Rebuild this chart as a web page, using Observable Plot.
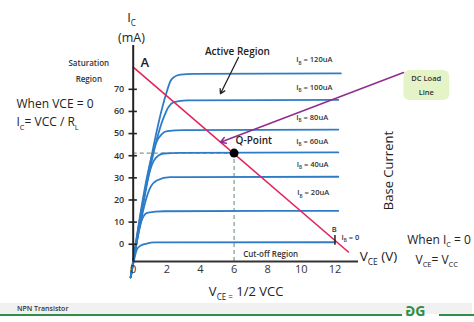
<!DOCTYPE html>
<html>
<head>
<meta charset="utf-8">
<script src="https://cdn.jsdelivr.net/npm/d3@7"></script>
<script src="https://cdn.jsdelivr.net/npm/@observablehq/plot@0.6"></script>
<style>
  body { margin: 0; background: #fff; font-family: "Open Sans", sans-serif; }
  #wrap { position: relative; width: 474px; height: 322px; overflow: hidden; background: #fff; }
  #chart { position: absolute; left: 0; top: 0; }
  #band { position: absolute; left: 0; top: 303px; width: 472px; height: 11px; background: #f1f1f1; }
  #foottext { position: absolute; left: 17px; top: 303.5px; font: 600 7px "Open Sans", sans-serif; color: #333; line-height: 10px; }
  .gline { position: absolute; top: 314px; height: 2px; background: #2f8d46; }
  #logo { position: absolute; left: 406px; top: 304px; font: 700 14px "Open Sans", sans-serif; color: #2f8d46; line-height: 14px; letter-spacing: -1px; }
  #logo span { display: inline-block; }
</style>
</head>
<body>
<div id="wrap">
  <div id="chart"></div>
  <div id="band"></div>
  <div id="foottext">NPN Transistor</div>
  <div class="gline" style="left:0px;width:402px"></div>
  <div class="gline" style="left:439px;width:35px"></div>
  <div id="logo"><span style="transform:scaleX(-1)">G</span><span>G</span></div>
</div>
<script>
// ---- data (VCE in V, IC in mA) ----
const baseCurrents = ["0", "20", "40", "60", "80", "100", "120"]; // uA
const curveIb0   = [[-0.15,-15],[0.24,-2.1],[0.45,-0.6],[0.8,0.3],[1.25,0.8],[12.0,0.9]];
const curveIb20  = [[-0.15,-15],[0.54,11.5],[0.83,14.2],[1.3,14.7],[1.82,14.9],[12.2,15.1]];
const curveIb40  = [[-0.15,-15],[1.03,25.8],[1.4,28.8],[2.2,30.3],[12.2,30.5]];
const curveIb60  = [[-0.15,-15],[1.23,37.8],[1.55,40.3],[1.82,41.0],[2.8,41.3],[12.2,41.5]];
const curveIb80  = [[-0.15,-15],[1.43,46.9],[1.7,49.8],[2.02,51.1],[3.0,51.6],[12.2,51.8]];
const curveIb100 = [[-0.15,-15],[1.82,57.4],[2.1,62.0],[2.42,64.2],[3.2,65.0],[12.2,65.2]];
const curveIb120 = [[-0.15,-15],[2.02,69.5],[2.2,73.5],[2.42,75.5],[2.81,76.6],[3.6,77.0],[12.35,77.2]];
const curves = [curveIb0, curveIb20, curveIb40, curveIb60, curveIb80, curveIb100, curveIb120];

const loadLine = [[0, 80], [12.8, -3.5]];   // DC load line, A -> past B
const qPoint = [6, 41.2];                    // Q-point
const bPoint = 12;                           // B at VCE = VCC
const xTicks = [0, 2, 4, 6, 8, 10, 12];
const yTicks = [0, 10, 20, 30, 40, 50, 60, 70];

// ---- layout / annotations ----
const xDomain = [0, 13.4];
const yDomain = [-7.8, 89.8];
const blue = "#2f7cc6", red = "#e3245a", purple = "#912c8e", ink = "#222";

const labels = [
  {t: "I_{C}", x: -0.10, y: 102.4, a: "middle", s: 13, w: 500},
  {t: "(mA)", x: -0.10, y: 93.2, a: "middle", s: 12.5, w: 500},
  {t: "A", x: 0.69, y: 81.9, a: "middle", s: 13, w: 600},
  {t: "Saturation", x: -2.64, y: 81.5, a: "middle", s: 8, w: 600, c: "#333"},
  {t: "Region", x: -2.64, y: 74.6, a: "middle", s: 8, w: 600, c: "#333"},
  {t: "When VCE = 0", x: -6.94, y: 63.1, a: "start", s: 12, w: 500},
  {t: "I_{C}= VCC / R_{L}", x: -6.94, y: 55.1, a: "start", s: 12, w: 500},
  {t: "Active Region", x: 6.2, y: 86.8, a: "middle", s: 10, w: 600},
  {t: "I_{B} = 120uA", x: 9.70, y: 83.3, a: "start", s: 7.5, w: 600, c: "#333"},
  {t: "I_{B} = 100uA", x: 9.70, y: 71.0, a: "start", s: 7.5, w: 600, c: "#333"},
  {t: "I_{B} = 80uA", x: 9.70, y: 57.4, a: "start", s: 7.5, w: 600, c: "#333"},
  {t: "I_{B} = 60uA", x: 9.70, y: 46.6, a: "start", s: 7.5, w: 600, c: "#333"},
  {t: "I_{B} = 40uA", x: 9.72, y: 36.0, a: "start", s: 7.5, w: 600, c: "#333"},
  {t: "I_{B} = 20uA", x: 9.76, y: 23.2, a: "start", s: 7.5, w: 600, c: "#333"},
  {t: "B", x: 11.95, y: 6.7, a: "middle", s: 7.5, w: 600, c: "#333"},
  {t: "I_{B} = 0", x: 12.39, y: 3.2, a: "start", s: 7.5, w: 600, c: "#333"},
  {t: "DC Load", x: 17.43, y: 74.9, a: "middle", s: 7.5, w: 600, c: "#333"},
  {t: "Line", x: 17.43, y: 68.6, a: "middle", s: 7.5, w: 600, c: "#333"},
  {t: "Q-Point", x: 6.09, y: 46.9, a: "start", s: 10, w: 600},
  {t: "Base Current", x: 15.2, y: 33.3, a: "middle", s: 13, w: 500, r: -90},
  {t: "When I_{C} = 0", x: 16.30, y: 2.0, a: "start", s: 12, w: 500},
  {t: "V_{CE}= V_{CC}", x: 16.79, y: -7.0, a: "start", s: 12, w: 500},
  {t: "V_{CE} (V)", x: 13.47, y: -5.5, a: "start", s: 13.5, w: 500},
  {t: "Cut-off Region", x: 6.54, y: -4.6, a: "start", s: 8, w: 600, c: "#333"},
  {t: "V_{CE =} 1/2 VCC", x: 4.50, y: -21.7, a: "start", s: 13, w: 500}
];

const curveData = curves.flatMap((pts, i) => pts.map(([vce, ic]) => ({ib: baseCurrents[i], vce, ic})));

const chart = Plot.plot({
  width: 474,
  height: 302,
  marginLeft: 132.7,
  marginRight: 116,
  marginTop: 45,
  marginBottom: 41,
  x: {domain: xDomain},
  y: {domain: yDomain},
  style: {fontFamily: "'Open Sans', sans-serif", background: "transparent", overflow: "visible"},
  marks: [
    Plot.rect([{x1: 16.1, x2: 18.83, y1: 65.0, y2: 78.5}], {x1: "x1", x2: "x2", y1: "y1", y2: "y2", fill: "#e4f4c6", rx: 6}),
    Plot.ruleY([qPoint[1]], {x1: 0, x2: qPoint[0], stroke: "#7f9a8c", strokeDasharray: "4,3", strokeWidth: 1.2}),
    Plot.ruleX([qPoint[0]], {y1: yDomain[0], y2: qPoint[1], stroke: "#7f9a8c", strokeDasharray: "4,3", strokeWidth: 1.2}),
    Plot.line(curveData, {x: "vce", y: "ic", z: "ib", stroke: blue, strokeWidth: 1.8, curve: "monotone-x"}),
    Plot.line(loadLine, {x: d => d[0], y: d => d[1], stroke: red, strokeWidth: 1.6}),
    Plot.ruleX([0], {y1: yDomain[0], y2: yDomain[1], stroke: ink, strokeWidth: 2}),
    Plot.ruleY([yDomain[0]], {x1: 0, x2: xDomain[1], stroke: "#333", strokeWidth: 2}),
    Plot.ruleY(yTicks, {x1: -0.25, x2: 0.25, stroke: ink, strokeWidth: 1.6}),
    Plot.axisY(yTicks, {tickSize: 0, tickPadding: 9, fontSize: 9, fontWeight: 600, fill: "#333", label: null}),
    Plot.axisX(xTicks, {tickSize: 0, tickPadding: 4, fontSize: 11, fontWeight: 500, fill: "#333", label: null}),
    Plot.ruleX([bPoint], {y1: -0.5, y2: 4, stroke: ink, strokeWidth: 1.5}),
    Plot.arrow([{x1: 6.26, y1: 84.4, x2: 5.19, y2: 68.0}], {x1: "x1", y1: "y1", x2: "x2", y2: "y2", stroke: ink, strokeWidth: 1.3, headLength: 6}),
    Plot.arrow([{x1: 16.08, y1: 77.6, x2: 5.19, y2: 46.1}], {x1: "x1", y1: "y1", x2: "x2", y2: "y2", stroke: purple, strokeWidth: 1.5, headLength: 6}),
    Plot.dot([qPoint], {x: d => d[0], y: d => d[1], r: 4.5, fill: "#000"}),
    ...labels.map(l => Plot.text([l], {
      x: "x", y: "y", text: "t", textAnchor: l.a, fontSize: l.s, fontWeight: l.w,
      fill: l.c || ink, rotate: l.r || 0
    }))
  ]
});

document.getElementById("chart").appendChild(chart);

// subscript rendering for "_{...}" markup
const ns = "http://www.w3.org/2000/svg";
chart.querySelectorAll("text").forEach(t => {
  const s = t.textContent;
  if (!s.includes("_{")) return;
  const fs = parseFloat(getComputedStyle(t).fontSize) || 12;
  const parts = s.split(/_\{([^}]*)\}/);
  t.textContent = "";
  let shifted = false;
  parts.forEach((p, i) => {
    if (!p) return;
    const ts = document.createElementNS(ns, "tspan");
    ts.textContent = p;
    if (i % 2) {
      ts.setAttribute("font-size", (fs * 0.62).toFixed(2));
      ts.setAttribute("dy", (fs * 0.3).toFixed(2));
      shifted = true;
    } else if (shifted) {
      ts.setAttribute("dy", (-fs * 0.3).toFixed(2));
      shifted = false;
    }
    t.appendChild(ts);
  });
});
</script>
</body>
</html>
